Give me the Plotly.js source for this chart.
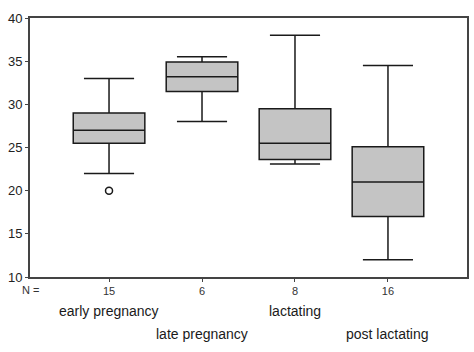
<!DOCTYPE html>
<html><head><meta charset="utf-8">
<script src="https://cdn.plot.ly/plotly-3.0.1.min.js"></script>
<style>html,body{margin:0;padding:0;background:#fff}#chart{width:474px;height:352px}</style>
</head><body><div id="chart"></div>
<script>
const groups = ["early pregnancy", "late pregnancy", "lactating", "post lactating"];
const nCounts = ["15", "6", "8", "16"];
const lowerWhisker = [22, 28, 23.1, 12];
const q1 = [25.5, 31.5, 23.6, 17];
const medians = [27, 33.2, 25.5, 21];
const q3 = [29, 34.9, 29.5, 25.1];
const upperWhisker = [33, 35.5, 38, 34.5];
const outlierGroup = [0];
const outlierValues = [20];

const pos = groups.map((g, i) => i);
const traces = [{
  type: 'box',
  x: pos,
  q1: q1, median: medians, q3: q3,
  lowerfence: lowerWhisker, upperfence: upperWhisker,
  width: 0.77,
  whiskerwidth: 0.7,
  fillcolor: '#c4c4c4',
  line: {color: '#1a1a1a', width: 1.5},
  boxpoints: false,
  showlegend: false,
  hoverinfo: 'skip'
}, {
  type: 'scatter', mode: 'markers',
  x: outlierGroup, y: outlierValues,
  marker: {symbol: 'circle-open', size: 7, color: '#1a1a1a', line: {width: 1.5, color: '#1a1a1a'}},
  showlegend: false
}];

const annotations = [{
  text: 'N =', xref: 'paper', yref: 'paper', x: 0, y: -0.02, xanchor: 'center', yanchor: 'top',
  showarrow: false, font: {family: 'Liberation Sans, Arial', size: 11, color: '#333'}
}];
groups.forEach((g, i) => {
  annotations.push({
    text: g, xref: 'x', yref: 'paper', x: i, y: (i % 2 === 0) ? -0.092 : -0.18,
    xanchor: 'center', yanchor: 'top', showarrow: false,
    font: {family: 'Liberation Sans, Arial', size: 14, color: '#1a1a1a'}
  });
});

const layout = {
  width: 474, height: 352,
  margin: {l: 30, r: 7, t: 18, b: 75},
  paper_bgcolor: '#fff', plot_bgcolor: '#fff',
  showlegend: false,
  xaxis: {
    range: [-0.85, 3.85],
    tickvals: pos, ticktext: nCounts,
    ticks: 'outside', ticklen: 3, tickcolor: '#444', tickwidth: 1,
    showgrid: false, zeroline: false,
    showline: true, linecolor: '#444', linewidth: 2, mirror: true,
    tickfont: {family: 'Liberation Sans, Arial', size: 11, color: '#333'}
  },
  yaxis: {
    range: [10, 40], dtick: 5,
    ticks: 'outside', ticklen: 3, tickcolor: '#444', tickwidth: 1,
    showgrid: false, zeroline: false,
    showline: true, linecolor: '#444', linewidth: 2, mirror: true,
    tickfont: {family: 'Liberation Sans, Arial', size: 13, color: '#222'}
  },
  annotations: annotations
};
Plotly.newPlot('chart', traces, layout, {displayModeBar: false, staticPlot: true});
</script></body></html>
